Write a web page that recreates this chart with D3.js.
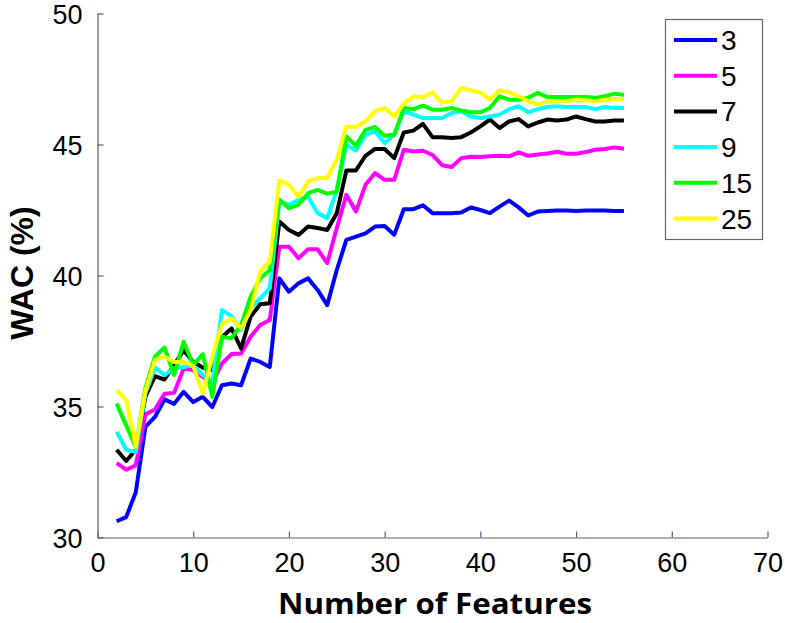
<!DOCTYPE html>
<html>
<head>
<meta charset="utf-8">
<script src="https://cdn.jsdelivr.net/npm/d3@7"></script>
<style>
  html, body { margin: 0; padding: 0; background: #fff; }
  svg { display: block; }
</style>
</head>
<body>
<svg id="chart" width="785" height="623"></svg>
<script>
// ---- data ----
const features = d3.range(2, 56); // 2..55
const seriesNames = ["3", "5", "7", "9", "15", "25"];
const seriesColors = ["#0000ff", "#ff00ff", "#000000", "#00ffff", "#00ff00", "#ffff00"];
const s3 = [30.62,30.78,31.73,34.22,34.6,35.27,35.1,35.56,35.17,35.37,
  34.98,35.81,35.88,35.81,36.83,36.7,36.51,39.89,39.38,39.7,
  39.89,39.45,38.87,40.21,41.36,41.48,41.61,41.87,41.89,41.55,
  42.53,42.53,42.68,42.38,42.38,42.38,42.4,42.6,42.5,42.38,
  42.63,42.86,42.6,42.29,42.44,42.46,42.48,42.48,42.46,42.48,
  42.48,42.48,42.46,42.46];
const s5 = [32.84,32.59,32.75,34.7,34.88,35.49,35.52,36.45,36.39,36.13,
  35.9,36.64,37.0,37.02,37.66,38.11,38.3,41.1,41.1,40.66,
  41.0,41.0,40.47,41.81,43.08,42.44,43.46,43.91,43.65,43.65,
  44.8,44.73,44.76,44.6,44.21,44.14,44.48,44.53,44.52,44.55,
  44.57,44.55,44.7,44.57,44.62,44.66,44.72,44.65,44.65,44.71,
  44.8,44.83,44.89,44.84];
const s7 = [33.35,32.92,33.35,35.37,36.16,36.03,36.58,37.15,36.7,36.49,
  36.39,37.64,37.98,37.22,38.43,38.9,38.94,42.06,41.74,41.55,
  41.87,41.81,41.74,42.38,44.01,44.01,44.57,44.83,44.83,44.48,
  45.46,45.53,45.79,45.28,45.28,45.25,45.28,45.46,45.69,45.95,
  45.63,45.88,45.97,45.69,45.84,45.95,45.92,45.95,46.07,45.97,
  45.88,45.88,45.92,45.92];
const s9 = [34.03,33.35,33.26,35.49,36.49,36.2,36.45,36.51,36.58,36.2,
  35.94,38.68,38.45,37.92,38.75,39.13,39.51,42.82,42.7,42.89,
  43.01,42.38,42.19,43.27,44.99,44.77,45.37,45.5,45.05,45.37,
  46.26,46.14,46.01,46.01,46.01,46.2,46.27,46.07,46.01,46.07,
  46.14,46.35,46.46,46.23,46.35,46.43,46.46,46.43,46.43,46.43,
  46.35,46.43,46.39,46.39];
const s15 = [35.11,34.28,33.45,35.69,36.9,37.25,36.2,37.47,36.58,37.0,
  35.37,37.66,37.6,38.11,39.19,39.89,40.21,42.89,42.57,42.7,
  43.14,43.27,43.12,43.2,45.31,44.95,45.56,45.67,45.33,45.37,
  46.39,46.35,46.48,46.33,46.33,46.39,46.3,46.23,46.23,46.39,
  46.84,46.71,46.71,46.78,46.97,46.81,46.81,46.81,46.81,46.81,
  46.78,46.84,46.94,46.9];
const s25 = [35.62,35.24,33.45,35.6,36.77,36.9,36.7,36.7,36.55,35.49,
  36.9,38.14,38.36,37.98,38.68,40.15,40.53,43.63,43.46,43.01,
  43.59,43.72,43.72,44.42,45.69,45.67,45.88,46.27,46.39,46.07,
  46.56,46.84,46.8,46.99,46.6,46.65,47.16,47.07,46.99,46.71,
  47.07,46.99,46.84,46.65,46.52,46.65,46.65,46.65,46.71,46.69,
  46.65,46.71,46.74,46.74];
const xTicks = [0, 10, 20, 30, 40, 50, 60, 70];
const yTicks = [30, 35, 40, 45, 50];
const xTitle = "Number of Features";
const yTitle = "WAC (%)";

const allSeries = [s3, s5, s7, s9, s15, s25];

// ---- drawing ----
const svg = d3.select("#chart");
svg.append("rect").attr("width", 785).attr("height", 623).attr("fill", "#fff");

const x = d3.scaleLinear().domain([0, 70]).range([97.5, 767.5]);
const y = d3.scaleLinear().domain([30, 50]).range([537.5, 13.5]);

const tickFont = "'Liberation Sans', Arial, Helvetica, sans-serif";

const gx = svg.append("g").attr("transform", `translate(0,${y(30)})`)
  .call(d3.axisBottom(x).tickValues(xTicks).tickFormat(d3.format("d"))
    .tickSizeInner(-6).tickSizeOuter(0).tickPadding(15));
const gy = svg.append("g").attr("transform", `translate(${x(0)},0)`)
  .call(d3.axisLeft(y).tickValues(yTicks).tickFormat(d3.format("d"))
    .tickSizeInner(-6).tickSizeOuter(0).tickPadding(15));

[gx, gy].forEach(g => {
  g.select(".domain").attr("stroke", "#5c5c78").attr("stroke-width", 1.2);
  g.selectAll(".tick line").attr("stroke", "#5c5c78").attr("stroke-width", 1.2);
  g.selectAll(".tick text").attr("fill", "#000")
    .style("font-family", tickFont).style("font-size", "27px");
});
gy.selectAll(".tick text").attr("dy", "0.36em");

// lines
const line = d3.line().x((d, i) => x(features[i])).y(d => y(d));
svg.append("g").selectAll("path").data(allSeries).join("path")
  .attr("d", d => line(d))
  .attr("fill", "none")
  .attr("stroke", (d, i) => seriesColors[i])
  .attr("stroke-width", 4)
  .attr("stroke-linejoin", "round")
  .attr("stroke-linecap", "butt");

// axis titles
svg.append("text")
  .attr("x", 435).attr("y", 614)
  .attr("text-anchor", "middle")
  .attr("textLength", 314).attr("lengthAdjust", "spacingAndGlyphs")
  .style("font-family", "'Open Sans', Carlito, Calibri, sans-serif")
  .style("font-weight", "bold").style("font-size", "29px")
  .text(xTitle);

svg.append("text")
  .attr("transform", "translate(33,273) rotate(-90)")
  .attr("text-anchor", "middle")
  .style("font-family", tickFont)
  .style("font-weight", "bold").style("font-size", "32px")
  .text(yTitle);

// legend
const lg = svg.append("g");
lg.append("rect").attr("x", 665.5).attr("y", 19.5).attr("width", 97).attr("height", 220)
  .attr("fill", "#fff").attr("stroke", "#666").attr("stroke-width", 1.2);
const rowY = d3.scalePoint().domain(seriesNames).range([40, 218.5]);
const items = lg.selectAll("g.item").data(seriesNames).join("g").attr("class", "item")
  .attr("transform", d => `translate(0,${rowY(d)})`);
items.append("line").attr("x1", 674).attr("x2", 717).attr("y1", 0).attr("y2", 0)
  .attr("stroke", (d, i) => seriesColors[i]).attr("stroke-width", 4);
items.append("text").attr("x", 721).attr("y", 0).attr("dy", "0.36em")
  .style("font-family", tickFont).style("font-size", "28px").attr("fill", "#000")
  .text(d => d);
</script>
</body>
</html>
